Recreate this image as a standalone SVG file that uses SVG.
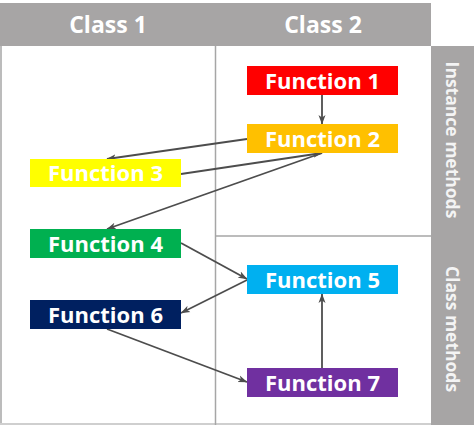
<svg xmlns="http://www.w3.org/2000/svg" width="474" height="425" viewBox="0 0 474 425">
  <style>
    .hdr { fill: #a7a5a5; }
    .grid { stroke: #a6a6a6; stroke-width: 1.5; fill: none; }
    .htxt { font-family: "Open Sans", "Liberation Sans", sans-serif; font-weight: 700; font-size: 23px; fill: #ffffff; text-anchor: middle; }
    .vtxt { font-family: "Open Sans", "Liberation Sans", sans-serif; font-weight: 700; font-size: 17.5px; fill: #f4f4f4; text-anchor: middle; }
    .ftxt { font-family: "Open Sans", "Liberation Sans", sans-serif; font-weight: 700; font-size: 22px; fill: #ffffff; text-anchor: middle; }
    .conn { stroke: #4d4d4d; stroke-width: 1.8; fill: none; marker-end: url(#ah); }
  </style>
  <defs>
    <marker id="ah" markerWidth="10" markerHeight="8" refX="9" refY="4" orient="auto" markerUnits="userSpaceOnUse">
      <path d="M0,0.5 L9.5,4 L0,7.5 L2.5,4 Z" fill="#4d4d4d"/>
    </marker>
  </defs>
  <rect x="0" y="0" width="474" height="425" fill="#ffffff"/>
  <g id="table">
    <rect class="hdr" x="0" y="3" width="431" height="43"/>
    <rect class="hdr" x="431" y="46" width="43" height="379"/>
    <line class="grid" x1="1" y1="46" x2="1" y2="425" stroke="#d0d0d0"/>
    <line x1="0" y1="424" x2="431" y2="424" stroke="#cfcfcf" stroke-width="2"/>
    <line class="grid" x1="215.5" y1="46" x2="215.5" y2="425"/>
    <line class="grid" x1="215.5" y1="236" x2="431" y2="236"/>
    <text class="htxt" x="108" y="33">Class 1</text>
    <text class="htxt" x="323" y="33">Class 2</text>
    <text class="vtxt" transform="translate(446,140) rotate(90)">Instance methods</text>
    <text class="vtxt" transform="translate(446,329) rotate(90)">Class methods</text>
  </g>
  <g id="connectors">
    <line class="conn" x1="322" y1="95" x2="322" y2="124"/>
    <line class="conn" x1="247" y1="139" x2="107" y2="159"/>
    <line class="conn" x1="181" y1="174" x2="322" y2="153"/>
    <line class="conn" x1="322" y1="153" x2="107" y2="229"/>
    <line class="conn" x1="181" y1="243" x2="247" y2="279"/>
    <line class="conn" x1="247" y1="280" x2="181" y2="313"/>
    <line class="conn" x1="107" y1="329" x2="247" y2="382"/>
    <line class="conn" x1="322" y1="368" x2="322" y2="294"/>
  </g>
  <g id="f1"><rect x="247" y="66" width="151" height="29" fill="#ff0000"/><text class="ftxt" x="322.5" y="88.5">Function 1</text></g>
  <g id="f2"><rect x="247" y="124" width="151" height="29" fill="#ffc000"/><text class="ftxt" x="322.5" y="146.5">Function 2</text></g>
  <g id="f3"><rect x="30" y="159" width="151" height="28" fill="#ffff00"/><text class="ftxt" x="105.5" y="181">Function 3</text></g>
  <g id="f4"><rect x="30" y="229" width="151" height="29" fill="#00b050"/><text class="ftxt" x="105.5" y="251.5">Function 4</text></g>
  <g id="f5"><rect x="247" y="265" width="151" height="29" fill="#00b0f0"/><text class="ftxt" x="322.5" y="287.5">Function 5</text></g>
  <g id="f6"><rect x="30" y="300" width="151" height="29" fill="#002060"/><text class="ftxt" x="105.5" y="322.5">Function 6</text></g>
  <g id="f7"><rect x="247" y="368" width="151" height="29" fill="#7030a0"/><text class="ftxt" x="322.5" y="390.5">Function 7</text></g>
</svg>
